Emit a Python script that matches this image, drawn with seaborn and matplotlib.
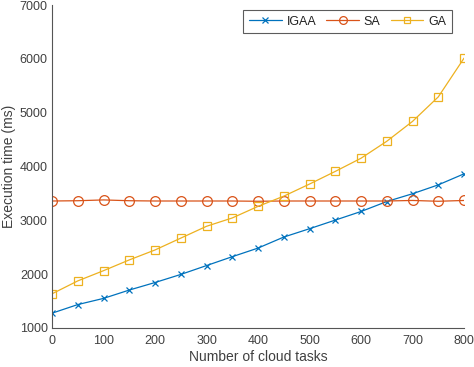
import pandas as pd
import matplotlib
matplotlib.use("Agg")
import matplotlib.pyplot as plt
import seaborn as sns

# data
tasks = [0, 50, 100, 150, 200, 250, 300, 350, 400, 450, 500, 550, 600, 650, 700, 750, 800]
igaa = [1275, 1435, 1550, 1705, 1845, 1995, 2160, 2325, 2485, 2690, 2845, 3005, 3165, 3350, 3495, 3660, 3865]
sa = [3360, 3365, 3380, 3365, 3360, 3360, 3360, 3360, 3355, 3360, 3360, 3360, 3360, 3360, 3370, 3355, 3370]
ga = [1635, 1875, 2065, 2265, 2450, 2670, 2890, 3045, 3260, 3450, 3675, 3910, 4155, 4470, 4840, 5295, 6015]

sns.set_style("white")
plt.rcParams['font.family'] = ['Liberation Sans', 'DejaVu Sans']
txt = '#404040'

fig = plt.figure(figsize=(4.74, 3.67), dpi=100)
ax = fig.add_axes([0.1097, 0.1063, 0.8693, 0.8797])

series = [('IGAA', igaa, '#0072BD', 'x', 5),
          ('SA', sa, '#D95319', 'o', 7),
          ('GA', ga, '#EDB120', 's', 6)]
for name, vals, col, mk, ms in series:
    df = pd.DataFrame({'tasks': tasks, 'time': vals})
    sns.lineplot(data=df, x='tasks', y='time', ax=ax, color=col, marker=mk,
                 markersize=ms, markerfacecolor='none', markeredgecolor=col,
                 markeredgewidth=0.9, linewidth=0.9, label=name)

ax.set_xlim(0, 800)
ax.set_ylim(1000, 7000)
ax.set_xticks(range(0, 801, 100))
ax.set_yticks(range(1000, 7001, 1000))
ax.set_xlabel('Number of cloud tasks', fontsize=10, color=txt, labelpad=2)
ax.set_ylabel('Execution time (ms)', fontsize=10, color=txt, labelpad=3)
ax.tick_params(direction='in', length=4, width=0.8, colors=txt, labelsize=9, pad=3)
ax.tick_params(axis='x', pad=5)
for s in ['top', 'right']:
    ax.spines[s].set_visible(False)
for s in ['left', 'bottom']:
    ax.spines[s].set_color('#555555')
    ax.spines[s].set_linewidth(0.8)

leg = ax.legend(ncol=3, loc='upper right', bbox_to_anchor=(0.97, 0.985), fontsize=9,
                frameon=True, fancybox=False, handlelength=2.6, columnspacing=0.8,
                handletextpad=0.4, borderpad=0.45, borderaxespad=0, markerscale=0.8)
leg.get_frame().set_edgecolor('#333333')
leg.get_frame().set_linewidth(0.8)
for t in leg.get_texts():
    t.set_color('#222222')

fig.savefig('out.png', dpi=100)
